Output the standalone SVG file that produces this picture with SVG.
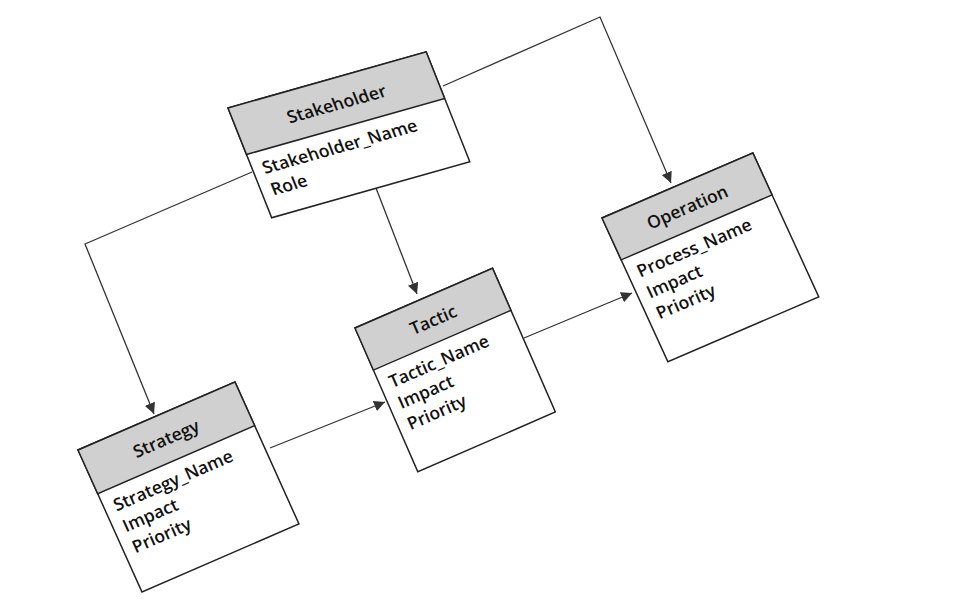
<svg xmlns="http://www.w3.org/2000/svg" width="977" height="610" viewBox="0 0 977 610">
<style>
.box{fill:#fff;stroke:#222;stroke-width:1.5}
.hdr{fill:#d0d0d0;stroke:#222;stroke-width:1.5}
.t{font-family:"Open Sans","DejaVu Sans",sans-serif;font-size:17.5px;font-weight:600;fill:#111}
.c{fill:none;stroke:#333;stroke-width:1.3}
</style>
<defs>
<marker id="ah" viewBox="0 0 10 10" refX="10" refY="5" markerWidth="11" markerHeight="11" markerUnits="userSpaceOnUse" orient="auto">
<path d="M0,0 L10,5 L0,10 z" fill="#333"/>
</marker>
</defs>
<rect width="977" height="610" fill="#fff"/>
<g id="connectors">
<polyline class="c" points="443,86 600,17 671,183" marker-end="url(#ah)"/>
<polyline class="c" points="252,172 85,244 154,414" marker-end="url(#ah)"/>
<line class="c" x1="376" y1="188" x2="417" y2="294" marker-end="url(#ah)"/>
<line class="c" x1="270" y1="448" x2="385" y2="402" marker-end="url(#ah)"/>
<line class="c" x1="524" y1="338" x2="632" y2="293" marker-end="url(#ah)"/>
</g>
<g id="stakeholder" transform="matrix(0.962,-0.272,0.37,0.93,228,108)">
<rect class="box" x="0" y="0" width="206" height="118"/>
<rect class="hdr" x="0" y="0" width="206" height="50"/>
<text class="t" x="103" y="32" text-anchor="middle">Stakeholder</text>
<text class="t" x="10" y="74">Stakeholder_Name</text>
<text class="t" x="10" y="97">Role</text>
</g>
<g id="strategy" transform="matrix(0.918,-0.398,0.41,0.91,78,450)">
<rect class="box" x="0" y="0" width="171" height="156"/>
<rect class="hdr" x="0" y="0" width="171" height="48"/>
<text class="t" x="85" y="31" text-anchor="middle">Strategy</text>
<text class="t" x="10" y="72">Strategy_Name</text>
<text class="t" x="10" y="95">Impact</text>
<text class="t" x="10" y="118">Priority</text>
</g>
<g id="tactic" transform="matrix(0.917,-0.399,0.40,0.916,355,328)">
<rect class="box" x="0" y="0" width="150" height="157"/>
<rect class="hdr" x="0" y="0" width="150" height="46"/>
<text class="t" x="75" y="30" text-anchor="middle">Tactic</text>
<text class="t" x="10" y="70">Tactic_Name</text>
<text class="t" x="10" y="93">Impact</text>
<text class="t" x="10" y="116">Priority</text>
</g>
<g id="operation" transform="matrix(0.92,-0.396,0.417,0.91,602,218)">
<rect class="box" x="0" y="0" width="164" height="158"/>
<rect class="hdr" x="0" y="0" width="164" height="46"/>
<text class="t" x="82" y="30" text-anchor="middle">Operation</text>
<text class="t" x="10" y="70">Process_Name</text>
<text class="t" x="10" y="93">Impact</text>
<text class="t" x="10" y="116">Priority</text>
</g>
</svg>
